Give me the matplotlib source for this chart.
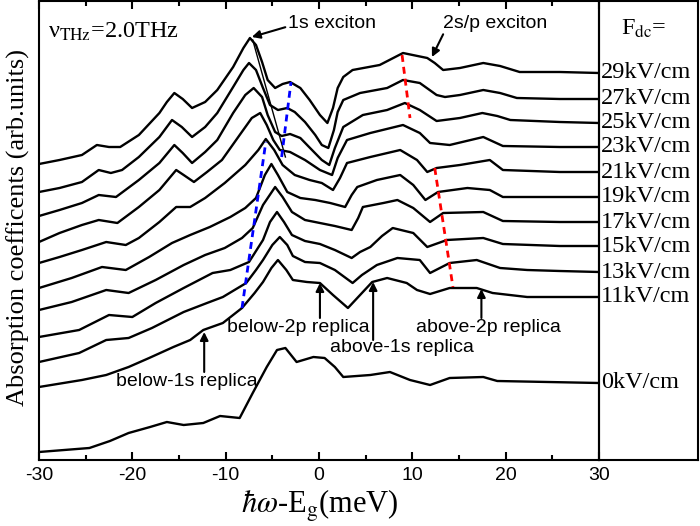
# Absorption spectra vs THz photon energy for several dc fields

import numpy as np
import matplotlib.pyplot as plt

plt.rcParams['font.family'] = ['Liberation Serif', 'DejaVu Serif']
plt.rcParams['mathtext.fontset'] = 'stix'
plt.rcParams['axes.unicode_minus'] = False

# Energies (meV) and absorption (arb. units, already offset)
E29 = [-30, -27.8, -25.4, -23.8, -22.5, -21.3, -19.3, -17.1, -16.3, -15.5, -14.6, -13.6, -12.2, -10.9, -9.2, -8.1,
       -7.4, -6.75, -6.1, -5.5, -4.7, -3.9, -3.1, -2.0, -1.0, 0.1, 0.9, 1.5, 2.0, 2.6, 3.6, 6.5, 9.0, 11.6, 12.4,
       13.3, 15.1, 17.6, 19.4, 21.5, 25.8, 30]
A29 = [29.6, 30.0, 30.5, 31.5, 31.3, 31.3, 32.5, 34.7, 35.8, 36.7, 36.1, 35.2, 35.8, 37.0, 39.3, 41.2,
       42.2, 41.5, 39.8, 38.0, 37.2, 37.6, 37.8, 37.2, 36.0, 34.5, 33.7, 35.2, 37.2, 38.3, 39.0, 39.5, 40.7, 40.2, 39.7,
       39.0, 39.2, 39.7, 39.4, 38.8, 38.8, 38.7]

E27 = [-30, -27.8, -25.4, -23.6, -22.3, -21.1, -19.3, -17.1, -15.75, -14.7, -13.6, -12.2, -10.9, -9.2, -8.1, -7.5,
       -6.75, -6.0, -5.25, -4.4, -3.4, -2.6, -1.5, -0.4, 0.3, 1.0, 1.6, 2.0, 2.6, 4.4, 7.3, 9.0, 10.8, 12.6, 13.5,
       15.1, 17.6, 19.4, 21.2, 25.8, 30]
A27 = [26.8, 27.2, 27.8, 29.0, 28.7, 29.0, 30.3, 32.3, 34.0, 33.3, 32.3, 33.3, 34.7, 37.3, 39.0, 39.7,
       39.0, 37.2, 35.5, 35.0, 35.2, 34.8, 33.8, 32.5, 31.5, 31.2, 33.0, 34.8, 36.0, 36.7, 37.2, 38.0, 37.7, 36.5, 36.3,
       36.5, 37.0, 36.7, 36.2, 36.1, 36.1]

E25 = [-30, -27.8, -25.4, -23.6, -21.75, -19.3, -17.1, -15.5, -14.6, -13.6, -12.2, -10.9, -9.2, -7.9, -7.0, -6.1,
       -5.5, -4.7, -4.0, -3.1, -2.0, -0.75, 0.3, 1.1, 1.7, 2.6, 4.7, 7.3, 9.2, 10.8, 12.6, 15.1, 17.5, 19.1, 20.5,
       25.8, 30]
A25 = [24.4, 25.0, 25.7, 26.5, 26.3, 28.0, 29.7, 31.5, 30.7, 29.7, 30.8, 32.0, 34.7, 36.5, 37.2, 36.3,
       34.5, 32.8, 32.4, 32.6, 32.2, 31.0, 30.0, 29.5, 31.2, 33.3, 34.5, 35.0, 35.7, 35.0, 33.9, 34.2, 34.7, 34.4, 34.0,
       33.8, 33.7]

E23 = [-30, -27.8, -25.4, -23.6, -21.6, -19.3, -17.1, -15.3, -14.5, -13.4, -12.0, -10.4, -8.5, -7.2, -6.3, -5.6,
       -4.9, -4.2, -3.1, -1.5, 0.1, 1.4, 2.0, 3.0, 5.5, 9.0, 10.8, 11.9, 14.0, 17.6, 19.7, 25.8, 30]
A23 = [21.8, 22.7, 23.5, 24.0, 23.7, 25.3, 27.0, 29.0, 28.5, 27.8, 28.8, 30.0, 32.5, 34.2, 34.7, 33.5,
       32.0, 31.0, 30.8, 30.0, 29.0, 28.5, 30.2, 32.0, 32.7, 33.5, 32.7, 31.7, 31.5, 32.3, 31.4, 31.3, 31.3]

E21 = [-30, -27.8, -25.4, -22.8, -20.7, -19.3, -17.1, -15.3, -13.8, -12.2, -10.1, -7.9, -6.5, -5.7, -4.8, -3.9,
       -2.6, -1.0, 0.3, 1.5, 2.25, 3.0, 5.5, 8.7, 10.5, 11.6, 12.6, 15.1, 18.3, 19.7, 25.8, 30]
A21 = [19.7, 20.3, 21.0, 21.8, 21.5, 22.2, 23.8, 25.3, 25.3, 26.2, 27.7, 29.5, 31.0, 32.1, 31.0, 29.5,
       28.5, 28.0, 27.7, 27.0, 28.2, 29.7, 30.3, 31.0, 30.0, 28.8, 29.2, 29.5, 30.0, 29.0, 28.8, 28.8]

E19 = [-30, -26.5, -23.25, -20.7, -18.2, -15.75, -13.8, -11.7, -9.5, -7.9, -6.75, -5.8, -5.1, -4.4, -3.4, -2.0,
       -0.4, 1.2, 2.8, 3.5, 4.1, 6.2, 8.7, 10.1, 11.4, 12.75, 15.9, 18.3, 19.7, 25.8, 30]
A19 = [17.2, 18.2, 19.3, 19.0, 20.3, 21.7, 22.5, 23.3, 24.3, 25.2, 26.2, 28.5, 29.6, 28.5, 26.8, 26.2,
       26.0, 25.7, 25.3, 26.5, 27.3, 28.0, 28.5, 27.5, 26.0, 26.8, 27.2, 27.0, 26.3, 26.3, 26.3]

E17 = [-30, -26.5, -22.8, -20.4, -17.5, -14.5, -12.2, -10.1, -8.25, -7.1, -6.0, -4.7, -3.9, -2.9, -1.5, 0.1,
       1.7, 3.5, 4.2, 4.7, 6.9, 8.4, 10.1, 11.9, 13.3, 17.6, 19.7, 25.8, 30]
A17 = [15.0, 15.8, 17.0, 16.7, 18.0, 19.5, 20.5, 21.2, 22.2, 23.2, 25.5, 27.3, 26.3, 24.8, 24.0, 23.7,
       23.4, 23.0, 24.2, 25.3, 25.7, 26.0, 25.2, 23.8, 24.7, 24.8, 23.9, 23.8, 23.8]

E15 = [-30, -25.7, -22.5, -20.0, -17.5, -14.5, -11.4, -9.5, -7.5, -6.0, -5.25, -4.5, -3.75, -2.9, -1.5, 0.1,
       1.7, 3.5, 4.4, 5.5, 6.75, 7.9, 10.1, 11.6, 13.7, 17.6, 19.7, 25.8, 30]
A15 = [12.3, 13.0, 14.5, 14.3, 15.7, 17.2, 18.7, 19.0, 19.8, 22.0, 23.8, 24.8, 23.8, 22.5, 21.9, 21.6,
       21.0, 20.2, 20.8, 21.3, 22.4, 23.2, 22.7, 21.3, 22.0, 22.2, 21.6, 21.4, 21.4]

E13 = [-30, -25.7, -22.8, -20.4, -17.9, -14.5, -12.0, -10.3, -7.8, -6.75, -6.0, -5.0, -4.2, -3.4, -2.8, -1.5,
       0.1, 1.7, 3.6, 4.6, 6.2, 8.4, 10.8, 11.9, 14.0, 16.9, 19.4, 22.3, 25.8, 30]
A13 = [9.8, 10.7, 12.0, 12.2, 13.2, 14.8, 15.7, 16.3, 17.7, 19.0, 20.0, 21.5, 22.3, 21.5, 20.4, 19.8,
       19.7, 19.0, 17.7, 18.5, 19.5, 20.2, 20.0, 18.7, 19.7, 20.0, 19.2, 19.0, 18.9, 18.8]

E11 = [-30, -25.4, -22.8, -20.4, -18.2, -15.6, -13.8, -12.4, -10.3, -8.25, -6.9, -6.0, -5.1, -4.4, -3.5, -2.8,
       -1.3, 0.1, 1.5, 3.1, 4.4, 5.7, 7.3, 9.4, 10.5, 11.9, 14.0, 16.9, 18.6, 22.3, 30]
A11 = [7.3, 8.0, 8.5, 9.3, 10.2, 11.3, 12.0, 13.0, 13.7, 15.2, 16.7, 17.8, 19.2, 20.0, 19.0, 18.0,
       17.8, 17.7, 16.5, 15.2, 16.5, 17.8, 18.2, 17.7, 17.0, 16.6, 17.2, 17.2, 16.7, 16.3, 16.3]

E0 = [-30, -24.6, -22.4, -20.4, -18.1, -16.3, -14.5, -12.4, -10.6, -8.5, -7.1, -5.6, -4.5, -3.6, -2.4, -0.6,
      0.6, 1.7, 2.6, 5.5, 7.6, 9.75, 11.9, 14.0, 17.6, 19.1, 30]
A0 = [0.8, 1.2, 1.9, 2.7, 3.3, 3.8, 3.5, 3.7, 4.4, 4.2, 6.7, 9.3, 11.0, 11.2, 9.8, 10.3,
      10.2, 9.3, 8.3, 8.5, 8.8, 8.0, 7.5, 8.2, 8.3, 7.9, 7.7]

fields = ['29kV/cm', '27kV/cm', '25kV/cm', '23kV/cm', '21kV/cm', '19kV/cm',
          '17kV/cm', '15kV/cm', '13kV/cm', '11kV/cm', '0kV/cm']
curves = [(E29, A29), (E27, A27), (E25, A25), (E23, A23), (E21, A21), (E19, A19),
          (E17, A17), (E15, A15), (E13, A13), (E11, A11), (E0, A0)]

# guide lines (peak shifts)
blue_up = ([-4.0, -3.0], [30.3, 37.8])
blue_low = ([-8.25, -5.7], [15.2, 31.8])
red_up = ([8.9, 9.75], [40.5, 34.2])
red_low = ([12.4, 14.35], [29.2, 17.3])
guide_1s = ([-7.1, -3.6], [42.0, 30.3])

fig = plt.figure(figsize=(7, 5.26), dpi=100)
ax = fig.add_axes([39/700, 66/526, 560/700, 459/526])
panel = fig.add_axes([599/700, 66/526, 99/700, 459/526])
panel.patch.set_visible(False)

for (e, a) in curves:
    ax.plot(e, a, color='black', lw=1.7, solid_joinstyle='round')

ax.plot(*guide_1s, color='black', lw=1.0)
for xy in (blue_up, blue_low):
    ax.plot(*xy, color='blue', lw=2.0, linestyle=(0, (2.5, 1.8)))
for xy in (red_up, red_low):
    ax.plot(*xy, color='red', lw=2.0, linestyle=(0, (2.5, 1.8)))

ax.set_xlim(-30, 30)
ax.set_ylim(0, 45.9)
ax.set_xticks(np.arange(-30, 31, 10))
ax.set_xticks(np.arange(-25, 30, 10), minor=True)
ax.set_yticks([])
ax.tick_params(axis='x', which='both', direction='in', top=True, width=1.5, pad=5,
               labelsize=14, labelfontfamily='Liberation Sans')
ax.tick_params(axis='x', which='major', length=6)
ax.tick_params(axis='x', which='minor', length=3.5)
for s in ax.spines.values():
    s.set_linewidth(1.5)

panel.set_xticks([])
panel.set_yticks([])
for s in panel.spines.values():
    s.set_linewidth(1.5)

# field labels at the right end of each curve
for (e, a), lab in zip(curves, fields):
    ax.annotate(lab, xy=(1.0, a[-1]), xycoords=('axes fraction', 'data'),
                xytext=(1.5, 0), textcoords='offset points', ha='left', va='center',
                fontsize=17.5, annotation_clip=False, zorder=5)
panel.text(0.45, 0.94, r'F$_{\mathrm{dc}}$=', transform=panel.transAxes,
           ha='center', va='center', fontsize=17.5)

ax.text(-29.0, 42.8, 'ν$_{\\mathrm{THz}}$=2.0THz', fontsize=17.5, ha='left', va='center')

sans = 'Liberation Sans'
arrow = dict(arrowstyle='-|>', color='black', lw=1.5, mutation_scale=12)
ax.annotate('1s exciton', xy=(-7.2, 42.3), xytext=(1.4, 43.7), ha='center', va='center',
            fontsize=14, family=sans,
            arrowprops=dict(arrow, shrinkA=0, shrinkB=0, relpos=(0, 0.3)))
ax.annotate('2s/p exciton', xy=(12.1, 40.3), xytext=(18.9, 43.7), ha='center', va='center',
            fontsize=14, family=sans,
            arrowprops=dict(arrow, shrinkA=0, shrinkB=0, relpos=(0.02, 0.1)))

ax.text(-14.2, 7.8, 'below-1s replica', fontsize=14, family=sans, ha='center', va='center')
ax.text(-2.2, 13.2, 'below-2p replica', fontsize=14, family=sans, ha='center', va='center')
ax.text(8.85, 11.2, 'above-1s replica', fontsize=14, family=sans, ha='center', va='center')
ax.text(18.2, 13.2, 'above-2p replica', fontsize=14, family=sans, ha='center', va='center')

vert = [(-12.3, 8.8, 12.8), (0.1, 14.2, 17.7), (5.8, 12.0, 17.8), (17.4, 14.2, 17.1)]
for x0, y0, y1 in vert:
    ax.annotate('', xy=(x0, y1), xytext=(x0, y0),
                arrowprops=dict(arrow, shrinkA=0, shrinkB=0))

fig.text(320/700, 1 - 506/526, r'$\hbar\omega$-E$_{\mathrm{g}}$(meV)', fontsize=22,
         ha='center', va='center')
fig.text(18/700, 1 - 228/526, 'Absorption coefficents (arb.units)', fontsize=19,
         rotation=90, ha='center', va='center')

fig.savefig('out.png', dpi=100)
